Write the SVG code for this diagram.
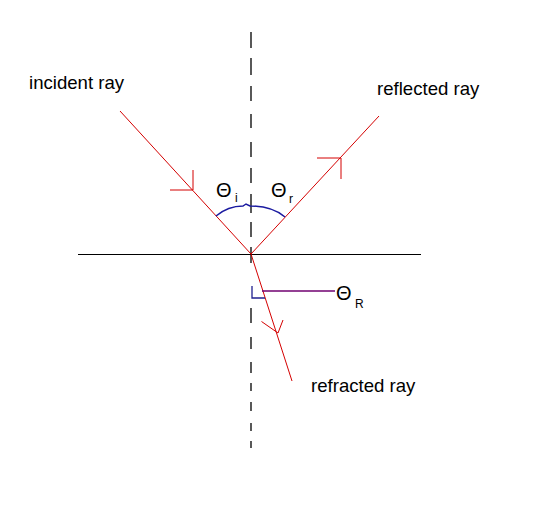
<svg xmlns="http://www.w3.org/2000/svg" width="545" height="526" viewBox="0 0 545 526">
<style>
text{font-family:"Liberation Sans",Arial,sans-serif;fill:#000}
.lbl{font-size:18.6px}
.th{font-size:20px}
.sub{font-size:12px}
.ray{stroke:#d40000;stroke-width:1;fill:none}
</style>
<rect width="545" height="526" fill="#fff"/>
<g id="connectors">
<path id="normal" d="M251 32V48M251 58V75M251 86V101M251 114V128M251 142V157M251 168V183M251 194V213M251 222V237M251 247V263M251 308V323M251 337V349M251 362V373M251 383V391M251 402V411M251 423V431M251 441V448" stroke="#000" stroke-width="1.3"/>
<line id="surface" x1="78" y1="254.5" x2="421" y2="254.5" stroke="#000" stroke-width="1"/>
<g id="incident">
<line class="ray" x1="120" y1="111" x2="251" y2="254"/>
<path class="ray" d="M170 190H193V170" stroke-width="1.3"/>
</g>
<g id="reflected">
<line class="ray" x1="251" y1="254" x2="379" y2="116"/>
<path class="ray" d="M317 158H341V179" stroke-width="1.3"/>
</g>
<g id="refracted">
<line class="ray" x1="251" y1="254" x2="292" y2="381"/>
<path class="ray" d="M261.5 321.5L278 333L283 320" stroke-width="1.3"/>
</g>
<path id="arc" d="M216 216Q228 206 243 206L246 204L250 206Q272 206 285 217" fill="none" stroke="#1a1aa0" stroke-width="1.5"/>
<path id="rightangle" d="M252 286V298H265" fill="none" stroke="#202090" stroke-width="1.3"/>
<line id="pointer" x1="262" y1="291" x2="335" y2="291" stroke="#700070" stroke-width="1.4"/>
</g>
<g id="label-incident"><text class="lbl" x="29" y="89">incident ray</text></g>
<g id="label-reflected"><text class="lbl" x="377" y="95">reflected ray</text></g>
<g id="label-refracted"><text class="lbl" x="311" y="392">refracted ray</text></g>
<g id="theta-i"><text class="th" x="216" y="197">Θ</text><text class="sub" x="235" y="202">i</text></g>
<g id="theta-r"><text class="th" x="271" y="197">Θ</text><text class="sub" x="289" y="203">r</text></g>
<g id="theta-R"><text class="th" x="336" y="300">Θ</text><text class="sub" x="355" y="308">R</text></g>
</svg>
